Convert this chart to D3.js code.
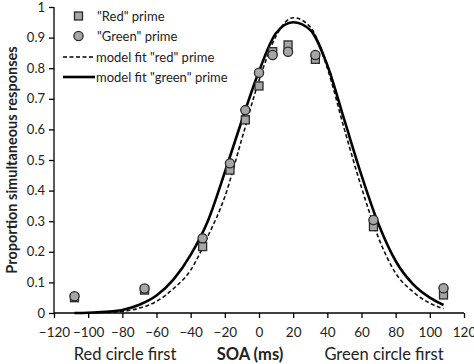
<!DOCTYPE html>
<html>
<head>
<meta charset="utf-8">
<script src="https://cdn.jsdelivr.net/npm/d3@7"></script>
<style>
  body { margin: 0; background: #fff; }
  svg text { font-family: Lato, "Open Sans", sans-serif; fill: #222; }
  .axis path, .axis line { stroke: #000; stroke-width: 1.3; }
</style>
</head>
<body>
<div id="chart"></div>
<script>
// observed data: SOA (ms) and proportion of "simultaneous" responses
var soa = [-108, -67, -33, -17, -8, 0, 8, 17, 33, 67, 108];
var redPrime = [0.05, 0.075, 0.217, 0.467, 0.631, 0.742, 0.854, 0.876, 0.829, 0.282, 0.059];
var greenPrime = [0.055, 0.08, 0.244, 0.489, 0.663, 0.785, 0.843, 0.854, 0.843, 0.304, 0.081];

// model fit curves
var fitSoa = [-108, -100, -90, -80, -70, -60, -50, -40, -30, -20, -10, 0, 10, 20, 30, 40, 50, 60, 70, 80, 90, 100, 108];
var fitRed = [0, 0.0005, 0.002, 0.005, 0.016, 0.038, 0.08, 0.14, 0.25, 0.38, 0.57, 0.76, 0.905, 0.965, 0.935, 0.8, 0.6, 0.41, 0.245, 0.13, 0.07, 0.032, 0.014];
var fitGreen = [0, 0.001, 0.004, 0.01, 0.027, 0.057, 0.11, 0.19, 0.3, 0.46, 0.63, 0.79, 0.915, 0.95, 0.925, 0.81, 0.63, 0.45, 0.29, 0.17, 0.095, 0.05, 0.026];

var xTicks = d3.range(-120, 121, 20);
var yTicks = d3.range(0, 1.01, 0.1);

var margin = {top: 7, right: 10, bottom: 51, left: 54};
var W = 474, H = 364;
var width = W - margin.left - margin.right;
var height = H - margin.top - margin.bottom;

var svg = d3.select("#chart").append("svg")
    .attr("width", W)
    .attr("height", H);

var g = svg.append("g")
    .attr("transform", "translate(" + margin.left + "," + margin.top + ")");

var xScale = d3.scaleLinear().domain([-120, 120]).range([0, width]);
var yScale = d3.scaleLinear().domain([0, 1]).range([height, 0]);

// axes
var yAxis = g.append("g")
    .attr("class", "axis")
    .call(d3.axisLeft(yScale)
        .tickValues(yTicks)
        .tickSize(5)
        .tickPadding(4)
        .tickFormat(function(d) { return d === 0 || Math.abs(d - 1) < 1e-9 ? d3.format("d")(Math.round(d)) : d3.format(".1f")(d); }));
yAxis.select(".domain").attr("d", "M0," + height + "V0");
yAxis.selectAll("text").style("font-size", "13px");

var xAxis = g.append("g")
    .attr("class", "axis")
    .attr("transform", "translate(0," + height + ")")
    .call(d3.axisBottom(xScale)
        .tickValues(xTicks)
        .tickSize(5)
        .tickPadding(9));
xAxis.select(".domain").attr("d", "M0,0H" + width);
xAxis.selectAll("text").style("font-size", "13.5px");

// axis titles
svg.append("text")
    .attr("transform", "translate(17," + (margin.top + 153) + ") rotate(-90)")
    .attr("text-anchor", "middle")
    .style("font-size", "14.5px")
    .style("font-weight", "bold")
    .text("Proportion simultaneous responses");

var titleY = 360;
svg.append("text")
    .attr("x", 125).attr("y", titleY)
    .attr("text-anchor", "middle")
    .style("font-size", "16.5px")
    .text("Red circle first");
svg.append("text")
    .attr("x", 250).attr("y", titleY)
    .attr("text-anchor", "middle")
    .style("font-size", "16.5px")
    .style("font-weight", "bold")
    .text("SOA (ms)");
svg.append("text")
    .attr("x", 384).attr("y", titleY)
    .attr("text-anchor", "middle")
    .style("font-size", "16.5px")
    .text("Green circle first");

// model fit lines
function fitLine(vals) {
  return d3.line()
      .x(function(d, i) { return xScale(fitSoa[i]); })
      .y(function(d) { return yScale(d); })
      .curve(d3.curveMonotoneX)(vals);
}

g.append("path")
    .attr("d", fitLine(fitRed))
    .attr("fill", "none")
    .attr("stroke", "#111")
    .attr("stroke-width", 1.6)
    .attr("stroke-dasharray", "4,2.5");

g.append("path")
    .attr("d", fitLine(fitGreen))
    .attr("fill", "none")
    .attr("stroke", "#000")
    .attr("stroke-width", 2.6);

// markers
var markFill = "#a6a6a6", markStroke = "#2a2a2a";
var sq = 8;

g.selectAll(".sq")
    .data(redPrime)
  .enter().append("rect")
    .attr("class", "sq")
    .attr("x", function(d, i) { return xScale(soa[i]) - sq / 2; })
    .attr("y", function(d) { return yScale(d) - sq / 2; })
    .attr("width", sq)
    .attr("height", sq)
    .attr("fill", markFill)
    .attr("stroke", markStroke)
    .attr("stroke-width", 1.3);

g.selectAll(".ci")
    .data(greenPrime)
  .enter().append("circle")
    .attr("class", "ci")
    .attr("cx", function(d, i) { return xScale(soa[i]); })
    .attr("cy", function(d) { return yScale(d); })
    .attr("r", 4.6)
    .attr("fill", markFill)
    .attr("stroke", markStroke)
    .attr("stroke-width", 1.3);

// legend
var legend = svg.append("g");
var legItems = [
  {label: "\"Red\" prime", y: 16, type: "sq"},
  {label: "\"Green\" prime", y: 36, type: "ci"},
  {label: "model fit \"red\" prime", y: 57, type: "dash"},
  {label: "model fit \"green\" prime", y: 77, type: "solid"}
];
legItems.forEach(function(it) {
  if (it.type === "sq") {
    legend.append("rect")
        .attr("x", 78.5 - sq / 2).attr("y", it.y - sq / 2)
        .attr("width", sq).attr("height", sq)
        .attr("fill", markFill).attr("stroke", markStroke).attr("stroke-width", 1.3);
  } else if (it.type === "ci") {
    legend.append("circle")
        .attr("cx", 78.5).attr("cy", it.y).attr("r", 4.6)
        .attr("fill", markFill).attr("stroke", markStroke).attr("stroke-width", 1.3);
  } else {
    legend.append("line")
        .attr("x1", 63).attr("x2", 95)
        .attr("y1", it.y).attr("y2", it.y)
        .attr("stroke", "#000")
        .attr("stroke-width", it.type === "dash" ? 1.6 : 2.6)
        .attr("stroke-dasharray", it.type === "dash" ? "4,2.5" : null);
  }
  legend.append("text")
      .attr("x", it.type === "sq" || it.type === "ci" ? 97 : 96)
      .attr("y", it.y)
      .attr("dy", "0.35em")
      .style("font-size", "13px")
      .text(it.label);
});
</script>
</body>
</html>
